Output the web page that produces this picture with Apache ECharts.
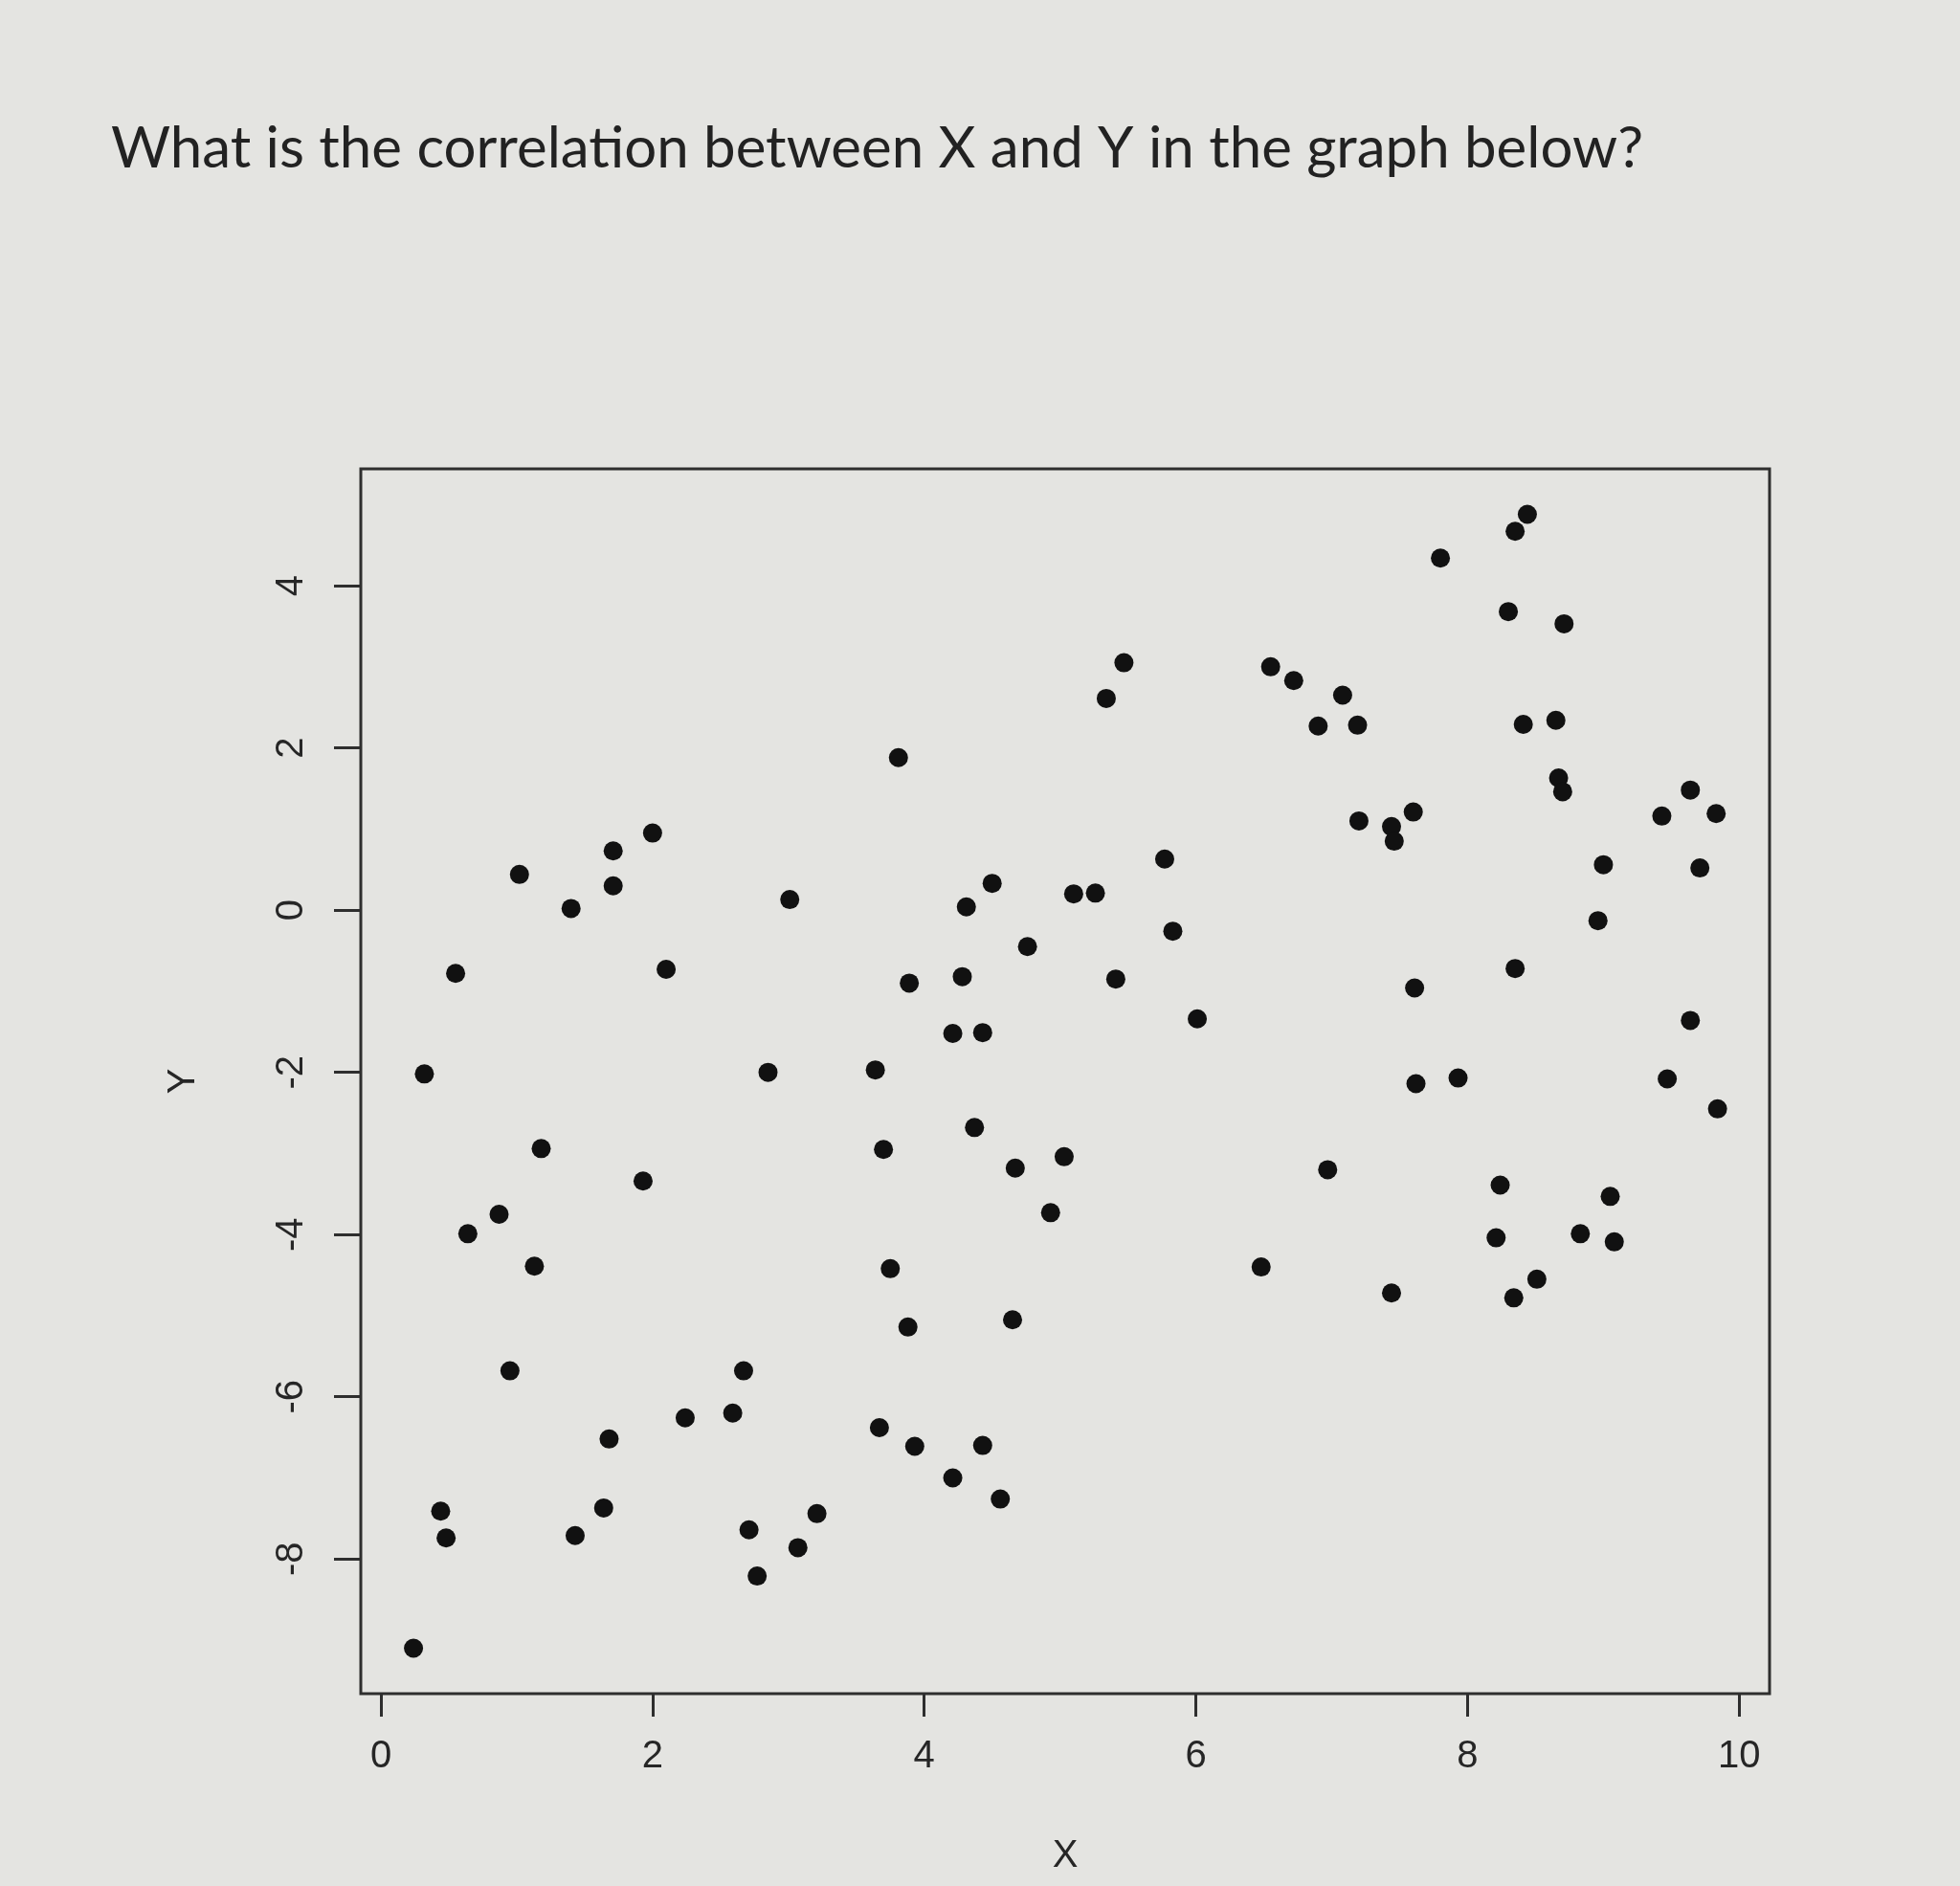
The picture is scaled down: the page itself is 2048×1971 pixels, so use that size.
<!DOCTYPE html>
<html>
<head>
<meta charset="utf-8">
<script src="https://cdn.jsdelivr.net/npm/echarts@6/dist/echarts.min.js"></script>
<style>
html,body{margin:0;padding:0;background:#e4e4e1;}
#chart{width:2048px;height:1971px;}
</style>
</head>
<body>
<div id="chart"></div>
<script>
const titleText = "What is the correlation between X and Y in the graph below?";
const xTicks = [0, 2, 4, 6, 8, 10];
const yTicks = [-8, -6, -4, -2, 0, 2, 4];
const xValues = [0.32,0.55,0.24,0.44,0.48,0.64,0.87,1.02,0.95,1.18,1.13,1.40,1.43,1.71,1.71,1.68,1.64,1.93,2.00,2.10,
  2.24,2.59,2.67,2.71,2.77,2.85,3.01,3.07,3.21,3.64,3.67,3.70,3.75,3.81,3.88,3.93,3.89,4.21,4.28,4.31,
  4.43,4.37,4.21,4.43,4.56,4.50,4.67,4.65,4.76,5.03,4.93,5.10,5.26,5.34,5.47,5.41,5.77,5.83,6.01,6.48,
  6.55,6.72,6.90,7.08,7.19,6.97,7.20,7.44,7.44,7.46,7.60,7.61,7.62,7.93,7.80,8.24,8.21,8.34,8.51,8.35,
  8.30,8.41,8.65,8.35,8.44,8.67,8.70,8.71,8.83,9.05,9.08,9.00,8.96,9.47,9.43,9.64,9.64,9.83,9.71,9.84];
const yValues = [-2.02,-0.78,-9.10,-7.41,-7.74,-3.99,-3.75,0.44,-5.68,-2.94,-4.39,0.02,-7.71,0.73,0.30,-6.52,-7.37,-3.34,0.95,-0.73,
  -6.26,-6.20,-5.68,-7.64,-8.21,-2.00,0.13,-7.86,-7.44,-1.97,-6.38,-2.95,-4.42,1.88,-5.14,-6.61,-0.90,-7.00,-0.82,0.04,
  -6.60,-2.68,-1.52,-1.51,-7.26,0.33,-3.18,-5.05,-0.45,-3.04,-3.73,0.20,0.21,2.61,3.05,-0.85,0.63,-0.26,-1.34,-4.40,
  3.00,2.83,2.27,2.65,2.28,-3.20,1.10,-4.72,1.03,0.85,1.21,-0.96,-2.14,-2.07,4.34,-3.39,-4.04,-4.78,-4.55,-0.72,
  3.68,2.29,2.34,4.67,4.88,1.63,1.46,3.53,-3.99,-3.53,-4.09,0.56,-0.13,-2.08,1.16,-1.36,1.48,1.19,0.52,-2.45];

const points = xValues.map((x, i) => [x, yValues[i]]);
const ink = '#262626';

const chart = echarts.init(document.getElementById('chart'), null, {renderer: 'canvas'});
chart.setOption({
  backgroundColor: '#e4e4e1',
  animation: false,
  title: {
    text: titleText,
    left: 111,
    top: 121,
    textStyle: {fontFamily: 'Lato', fontSize: 60, fontWeight: 'normal', color: '#222222'}
  },
  grid: {
    left: 377, top: 490, width: 1472, height: 1280,
    show: true, borderColor: '#2e2e2e', borderWidth: 3, backgroundColor: 'transparent'
  },
  xAxis: {
    type: 'value',
    min: -0.148, max: 10.223,
    name: 'X', nameLocation: 'middle', nameGap: 150,
    nameTextStyle: {fontFamily: 'Liberation Sans', fontSize: 40, color: ink},
    axisLine: {show: false, onZero: false},
    splitLine: {show: false},
    axisTick: {show: true, length: 24, customValues: xTicks, lineStyle: {color: '#2e2e2e', width: 3}},
    axisLabel: {show: true, customValues: xTicks, margin: 46, fontFamily: 'Liberation Sans', fontSize: 40, color: ink}
  },
  yAxis: {
    type: 'value',
    min: -9.66, max: 5.44,
    name: 'Y', nameLocation: 'middle', nameGap: 165, nameRotate: 90,
    nameTextStyle: {fontFamily: 'Liberation Sans', fontSize: 40, color: ink},
    axisLine: {show: false, onZero: false},
    splitLine: {show: false},
    axisTick: {show: true, length: 28, customValues: yTicks, lineStyle: {color: '#2e2e2e', width: 3}},
    axisLabel: {show: true, customValues: yTicks, rotate: 90, margin: 52, fontFamily: 'Liberation Sans', fontSize: 40, color: ink}
  },
  series: [{
    type: 'scatter',
    data: points,
    symbol: 'circle',
    symbolSize: 20,
    itemStyle: {color: '#111111', opacity: 1}
  }]
});
</script>
</body>
</html>
